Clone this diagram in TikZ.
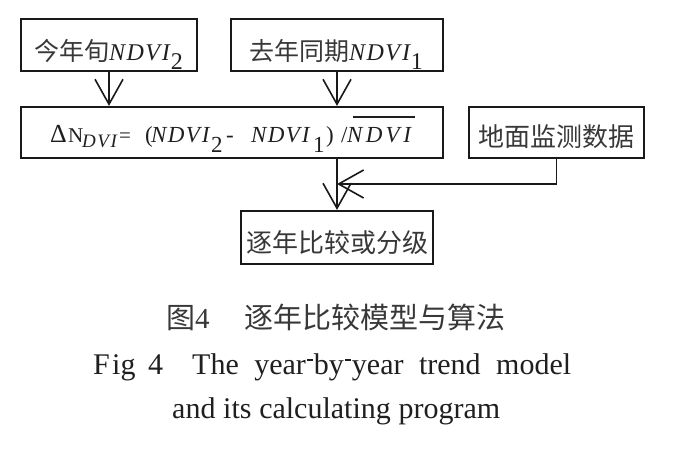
\documentclass[tikz,border=0pt]{standalone}
\usepackage{fontspec}
\setmainfont{Liberation Serif}
\newfontfamily\cjk{Noto Sans CJK SC}
\usetikzlibrary{arrows.meta}
\newcommand\ndvi{{\itshape N\kern.06em D\kern.06em V\kern.08em I}}
\newcommand\ndviw{{\itshape N\kern.14em D\kern.14em V\kern.16em I}}
\newcommand\lowsub[2]{\kern1pt\raisebox{-#1}{#2}}
\newcommand\hyp{\kern1pt\rule[13pt]{6pt}{1.6pt}\kern1pt}
\newcommand\zhsize{\color{black!78}\cjk\fontsize{25}{30}\selectfont}
\newcommand\latsize{\fontsize{24}{28}\selectfont}
\newcommand\pc[2]{\makebox[#1][l]{#2}}
\begin{document}
\begin{tikzpicture}[x=1pt,y=-1pt,
  box/.style={draw=black!90, line width=2.2pt, inner sep=0pt},
  conn/.style={draw=black!90, line width=1.6pt, -{Straight Barb[length=25pt,width=28pt,line width=1.6pt]}},
  txt/.style={inner sep=0pt, anchor=base west, text=black!88}]
\useasboundingbox (0,0) rectangle (694,457);
% boxes
\node[box, minimum width=176pt, minimum height=52pt] (b1) at (109,45) {};
\node[box, minimum width=212pt, minimum height=52pt] (b2) at (337,45) {};
\node[box, minimum width=422pt, minimum height=51pt] (b3) at (232,132.5) {};
\node[box, minimum width=175pt, minimum height=51pt] (b4) at (556.5,132.5) {};
\node[box, minimum width=192pt, minimum height=53pt] (b5) at (337,237.5) {};
% texts
\node[txt] (t1) at (34,61) {{\zhsize 今年旬}{\latsize\ndvi\lowsub{9pt}{2}}};
\node[txt] (t2) at (249,61) {{\zhsize 去年同期}{\latsize\ndvi\lowsub{9pt}{1}}};
\node[txt] (t3) at (50,143) {\fontsize{23}{27}\selectfont
  \pc{18pt}{\fontsize{26}{30}\selectfont Δ}%
  \pc{14pt}{\fontsize{21}{24}\selectfont N}%
  \pc{37pt}{\raisebox{-5pt}{\fontsize{19}{22}\selectfont\itshape D\kern1.5pt V\kern1.5pt I}}%
  \pc{26pt}{\fontsize{21}{24}\selectfont =}%
  \pc{6pt}{(}%
  \pc{60pt}{\ndvi}%
  \pc{15pt}{\raisebox{-10pt}{2}}%
  \pc{25pt}{-}%
  \pc{62pt}{\ndvi}%
  \pc{13pt}{\raisebox{-10pt}{1}}%
  \pc{15pt}{)}%
  \makebox[0pt][l]{/}\kern6pt
  \makebox[0pt][l]{\kern6pt\raisebox{25pt}{\rule{62pt}{2pt}}}\ndviw};
\node[txt] (t4) at (478,147) {\zhsize\fontsize{26}{30}\selectfont 地面监测数据};
\node[txt] (t5) at (246,253) {\zhsize\fontsize{26}{30}\selectfont 逐年比较或分级};
% connectors
\coordinate (j) at (337,184);
\draw[conn] (b1.south) -- (b1.south |- b3.north);
\draw[conn] (b2.south) -- (b2.south |- b3.north);
\draw[conn] (b2.south |- b3.south) -- (b5.north);
\draw[conn] (b4.south) |- (j);
% caption
\node[txt] (c1) at (166,329) {\color{black!78}{\cjk\fontsize{29}{32}\selectfont 图}{\fontsize{29}{32}\selectfont 4}\hspace{35pt}{\cjk\fontsize{29}{32}\selectfont 逐年比较模型与算法}};
\node[txt] (c2) at (93,374) {\fontsize{30}{34}\selectfont\pc{19pt}{F}\pc{36pt}{ig}\pc{44pt}{4}\makebox[379pt][s]{The year\hyp by\hyp year trend model}};
\node[txt] (c3) at (172,418) {\fontsize{30}{34}\selectfont\makebox[328pt][s]{and its calculating program}};
\end{tikzpicture}
\end{document}
